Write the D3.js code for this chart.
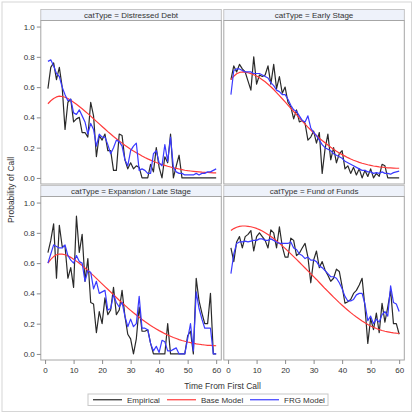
<!DOCTYPE html>
<html>
<head>
<meta charset="utf-8">
<script src="https://cdn.jsdelivr.net/npm/d3@7"></script>
<style>
  body { margin: 0; background: #fff; }
  svg text { font-family: "Liberation Sans", Arial, sans-serif; fill: #333; }
</style>
</head>
<body>
<svg id="chart" width="414" height="415"></svg>
<script>
// time from first call (x values shared by every series)
const timePoints = [1,2,3,4,5,6,7,8,9,10,11,12,13,14,15,16,17,18,19,20,
  21,22,23,24,25,26,27,28,29,30,31,32,33,34,35,36,37,38,39,40,
  41,42,43,44,45,46,47,48,49,50,51,52,53,54,55,56,57,58,59,60];

const catTypes = ["Distressed Debt", "Early Stage", "Expansion / Late Stage", "Fund of Funds"];
const seriesNames = ["Empirical", "Base Model", "FRG Model"];
const xTicks = [0, 10, 20, 30, 40, 50, 60];
const yTicks = [0, 0.2, 0.4, 0.6, 0.8, 1.0];

// Distressed Debt
const empDistressed = [0.59,0.73,0.76,0.65,0.73,0.60,0.32,0.50,0.52,0.37,
  0.39,0.40,0.30,0.30,0.27,0.50,0.41,0.14,0.28,0.25,
  0.29,0.18,0.18,0.05,0.05,0.29,0.28,0.12,0.06,0.10,
  0.06,0.08,0.07,0.00,0.00,0.00,0.09,0.04,0.20,0.07,
  0.00,0.14,0.10,0.29,0.00,0.08,0.15,0.00,0.00,0.00,
  0.00,0.00,0.00,0.00,0.00,0.00,0.00,0.00,0.00,0.00];
const baseDistressed = [0.490,0.510,0.525,0.535,0.540,0.538,0.533,0.525,0.513,0.500,
  0.487,0.472,0.457,0.441,0.425,0.408,0.391,0.374,0.357,0.340,
  0.323,0.306,0.290,0.274,0.259,0.244,0.230,0.216,0.203,0.190,
  0.178,0.167,0.156,0.145,0.135,0.126,0.118,0.110,0.102,0.095,
  0.089,0.083,0.077,0.072,0.067,0.063,0.059,0.055,0.051,0.048,
  0.046,0.044,0.042,0.040,0.038,0.037,0.036,0.035,0.034,0.034];
const frgDistressed = [0.77,0.78,0.74,0.69,0.67,0.60,0.55,0.51,0.52,0.43,
  0.42,0.45,0.41,0.37,0.29,0.36,0.32,0.21,0.29,0.27,
  0.27,0.22,0.16,0.20,0.25,0.24,0.21,0.12,0.08,0.18,
  0.21,0.23,0.05,0.06,0.05,0.03,0.03,0.16,0.18,0.10,
  0.08,0.22,0.11,0.27,0.07,0.04,0.03,0.03,0.02,0.02,
  0.02,0.02,0.03,0.02,0.03,0.03,0.04,0.04,0.05,0.06];

// Early Stage
const empEarly = [0.65,0.74,0.70,0.75,0.72,0.70,0.64,0.58,0.80,0.62,
  0.68,0.67,0.68,0.74,0.62,0.75,0.59,0.67,0.56,0.60,
  0.50,0.47,0.39,0.45,0.37,0.38,0.36,0.25,0.27,0.31,
  0.23,0.30,0.03,0.19,0.29,0.12,0.20,0.10,0.16,0.18,
  0.06,0.08,0.03,0.07,0.02,0.06,0.00,0.05,0.01,0.06,
  0.00,0.03,0.01,0.09,0.08,0.00,0.00,0.00,0.00,0.00];
const baseEarly = [0.650,0.672,0.688,0.697,0.700,0.699,0.695,0.689,0.682,0.673,
  0.662,0.649,0.635,0.619,0.602,0.584,0.564,0.544,0.523,0.502,
  0.481,0.460,0.439,0.418,0.397,0.376,0.356,0.336,0.317,0.298,
  0.280,0.263,0.247,0.232,0.217,0.203,0.190,0.177,0.165,0.154,
  0.144,0.134,0.125,0.117,0.110,0.103,0.097,0.092,0.087,0.083,
  0.079,0.076,0.073,0.071,0.069,0.067,0.066,0.065,0.064,0.064];
const frgEarly = [0.55,0.71,0.72,0.72,0.71,0.70,0.70,0.70,0.69,0.69,
  0.69,0.68,0.67,0.66,0.63,0.61,0.58,0.57,0.55,0.55,
  0.52,0.48,0.45,0.44,0.41,0.38,0.37,0.41,0.33,0.30,
  0.28,0.25,0.22,0.20,0.19,0.18,0.16,0.15,0.14,0.13,
  0.11,0.10,0.09,0.08,0.07,0.06,0.05,0.05,0.04,0.04,
  0.03,0.035,0.03,0.04,0.03,0.03,0.025,0.035,0.04,0.045];

// Expansion / Late Stage
const empExpansion = [0.67,0.75,0.86,0.50,0.85,0.71,0.71,0.50,0.57,0.44,
  0.91,0.67,0.79,0.48,0.63,0.34,0.33,0.14,0.28,0.20,
  0.37,0.26,0.29,0.44,0.26,0.29,0.42,0.25,0.13,0.10,
  0.00,0.10,0.31,0.15,0.15,0.16,0.07,0.00,0.00,0.00,
  0.00,0.00,0.20,0.00,0.00,0.00,0.00,0.00,0.00,0.12,
  0.15,0.00,0.50,0.35,0.27,0.20,0.20,0.40,0.00,0.00];
const baseExpansion = [0.600,0.625,0.643,0.655,0.660,0.659,0.655,0.648,0.638,0.626,
  0.613,0.599,0.584,0.568,0.551,0.534,0.517,0.499,0.481,0.463,
  0.445,0.427,0.409,0.391,0.373,0.355,0.338,0.321,0.304,0.288,
  0.272,0.257,0.242,0.228,0.214,0.201,0.188,0.176,0.165,0.154,
  0.144,0.134,0.125,0.117,0.109,0.102,0.095,0.089,0.084,0.079,
  0.075,0.071,0.067,0.064,0.061,0.059,0.057,0.056,0.055,0.054];
const frgExpansion = [0.60,0.66,0.72,0.71,0.70,0.70,0.72,0.65,0.62,0.60,
  0.65,0.61,0.60,0.48,0.55,0.54,0.43,0.48,0.40,0.41,
  0.42,0.29,0.30,0.39,0.34,0.31,0.34,0.25,0.18,0.23,
  0.18,0.20,0.38,0.17,0.17,0.16,0.07,0.02,0.05,0.01,
  0.09,0.08,0.02,0.02,0.03,0.04,0.00,0.00,0.00,0.10,
  0.20,0.02,0.41,0.30,0.23,0.17,0.17,0.17,0.00,0.00];

// Fund of Funds
const empFunds = [0.70,0.61,0.74,0.775,0.70,0.775,0.79,0.815,0.68,0.775,
  0.80,0.775,0.75,0.70,0.82,0.80,0.70,0.84,0.71,0.64,
  0.64,0.765,0.75,0.65,0.665,0.70,0.73,0.64,0.47,0.62,
  0.68,0.57,0.61,0.555,0.52,0.48,0.50,0.56,0.545,0.445,
  0.335,0.345,0.36,0.40,0.42,0.455,0.50,0.31,0.07,0.235,
  0.16,0.27,0.14,0.335,0.21,0.31,0.42,0.20,0.20,0.13];
const baseFunds = [0.815,0.828,0.837,0.843,0.845,0.845,0.843,0.840,0.835,0.829,
  0.821,0.812,0.801,0.789,0.776,0.762,0.747,0.731,0.714,0.697,
  0.679,0.661,0.643,0.625,0.606,0.587,0.568,0.549,0.530,0.511,
  0.492,0.472,0.452,0.432,0.413,0.394,0.375,0.357,0.339,0.322,
  0.305,0.289,0.273,0.258,0.244,0.231,0.218,0.206,0.195,0.185,
  0.176,0.168,0.161,0.155,0.150,0.146,0.142,0.139,0.137,0.136];
const frgFunds = [0.53,0.66,0.73,0.74,0.74,0.745,0.74,0.745,0.75,0.75,
  0.76,0.76,0.75,0.75,0.76,0.75,0.74,0.73,0.73,0.73,
  0.73,0.74,0.70,0.69,0.66,0.65,0.63,0.64,0.62,0.62,
  0.61,0.58,0.57,0.55,0.53,0.51,0.51,0.50,0.47,0.43,
  0.38,0.35,0.35,0.36,0.39,0.40,0.40,0.33,0.22,0.25,
  0.20,0.23,0.21,0.26,0.28,0.25,0.45,0.34,0.33,0.28];

const panels = [
  { cat: catTypes[0], series: [empDistressed, baseDistressed, frgDistressed] },
  { cat: catTypes[1], series: [empEarly, baseEarly, frgEarly] },
  { cat: catTypes[2], series: [empExpansion, baseExpansion, frgExpansion] },
  { cat: catTypes[3], series: [empFunds, baseFunds, frgFunds] }
];
const lineColors = ["#2a2a2a", "#ff3b3b", "#3a3aff"];

var svg = d3.select("svg#chart"),
  colX = [40.8, 223.8],
  rowY = [9.5, 185.5],
  panelW = 180.5,
  headH = 11,
  plotH = 163.5;

// outer graph border
svg.append("rect")
  .attr("x", 2).attr("y", 2)
  .attr("width", 409.5).attr("height", 409.5)
  .attr("fill", "#fff").attr("stroke", "#d6d6d6");

var x = d3.scaleLinear().domain([-1.5, 61.8]).range([0, panelW]);
var y = d3.scaleLinear().domain([-0.04, 1.04]).range([plotH, 0]);

var line = d3.line()
  .x(function(d, i) { return x(timePoints[i]); })
  .y(function(d) { return y(d); });

svg.append("defs").append("clipPath")
  .attr("id", "clip")
 .append("rect")
  .attr("width", panelW)
  .attr("height", plotH);

panels.forEach(function(p, i) {
  var col = i % 2, row = Math.floor(i / 2);
  var g = svg.append("g")
    .attr("transform", "translate(" + colX[col] + "," + rowY[row] + ")");

  // header cell
  g.append("rect")
    .attr("width", panelW).attr("height", headH)
    .attr("fill", "#eef2fa").attr("stroke", "#b8b8b8").attr("stroke-width", 0.8);
  g.append("text")
    .attr("x", panelW / 2).attr("y", headH / 2 + 3)
    .attr("text-anchor", "middle")
    .style("font-size", "8px")
    .text("catType = " + p.cat);

  var plot = g.append("g").attr("transform", "translate(0," + headH + ")");
  plot.append("rect")
    .attr("width", panelW).attr("height", plotH)
    .attr("fill", "#fff");

  var lines = plot.append("g").attr("clip-path", "url(#clip)");
  p.series.forEach(function(s, k) {
    lines.append("path")
      .datum(s)
      .attr("d", line)
      .attr("fill", "none")
      .attr("stroke", lineColors[k])
      .attr("stroke-width", 1.2)
      .attr("stroke-linejoin", "round");
  });

  plot.append("rect")
    .attr("width", panelW).attr("height", plotH)
    .attr("fill", "none").attr("stroke", "#a6a6a6").attr("stroke-width", 1);

  if (col === 0) {
    var ay = plot.append("g")
      .call(d3.axisLeft(y).tickValues(yTicks).tickFormat(d3.format(".1f")).tickSize(4).tickPadding(2));
    ay.select(".domain").remove();
    ay.selectAll("line").attr("stroke", "#8c8c8c");
    ay.selectAll("text").style("font-size", "8px").attr("fill", "#333");
  }
  if (row === 1) {
    var ax = plot.append("g")
      .attr("transform", "translate(0," + plotH + ")")
      .call(d3.axisBottom(x).tickValues(xTicks).tickSize(4).tickPadding(3));
    ax.select(".domain").remove();
    ax.selectAll("line").attr("stroke", "#8c8c8c");
    ax.selectAll("text").style("font-size", "8px").attr("fill", "#333");
  }
});

// axis titles
svg.append("text")
  .attr("transform", "translate(14,190) rotate(-90)")
  .attr("text-anchor", "middle")
  .style("font-size", "8.5px")
  .text("Probability of Call");

svg.append("text")
  .attr("x", 222.5).attr("y", 389)
  .attr("text-anchor", "middle")
  .style("font-size", "8.5px")
  .text("Time From First Call");

// legend
var legend = svg.append("g");
legend.append("rect")
  .attr("x", 88).attr("y", 394)
  .attr("width", 240).attr("height", 11.5)
  .attr("fill", "#fff").attr("stroke", "#c8c8c8");
var legendX = [93, 167, 250];
seriesNames.forEach(function(name, k) {
  legend.append("line")
    .attr("x1", legendX[k]).attr("x2", legendX[k] + 29)
    .attr("y1", 399.75).attr("y2", 399.75)
    .attr("stroke", lineColors[k]).attr("stroke-width", 1.2);
  legend.append("text")
    .attr("x", legendX[k] + 34).attr("y", 402.8)
    .style("font-size", "8px")
    .text(name);
});
</script>
</body>
</html>
